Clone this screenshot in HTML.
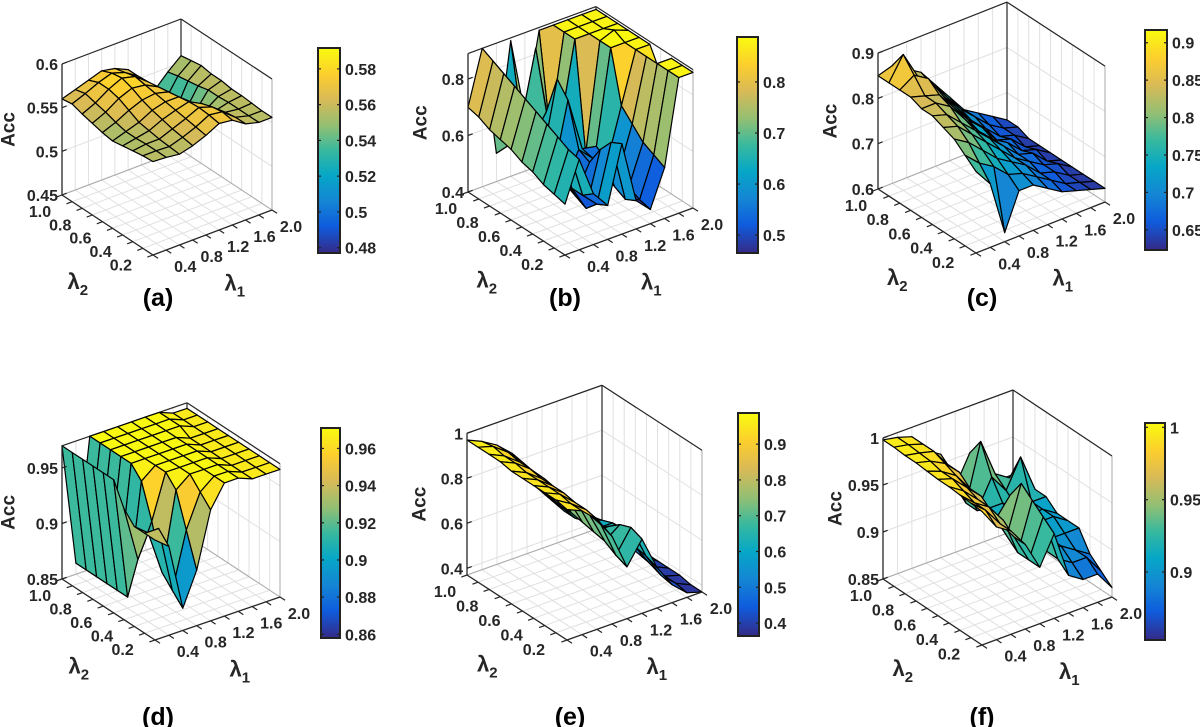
<!DOCTYPE html>
<html><head><meta charset="utf-8"><title>Acc surfaces</title>
<style>
html,body{margin:0;padding:0;background:#fff;}
svg{display:block;font-family:"Liberation Sans",Arial,sans-serif;font-weight:bold;}
</style></head>
<body>
<svg id="fig" width="1200" height="727" viewBox="0 0 1200 727" xmlns="http://www.w3.org/2000/svg">
<defs>
<linearGradient id="parula" x1="0" y1="1" x2="0" y2="0">
<stop offset="0" stop-color="#352a87"/><stop offset="0.13" stop-color="#0f5cdd"/><stop offset="0.25" stop-color="#1485d4"/><stop offset="0.38" stop-color="#06a7c6"/><stop offset="0.5" stop-color="#38b99e"/><stop offset="0.62" stop-color="#92bf73"/><stop offset="0.75" stop-color="#d9ba56"/><stop offset="0.87" stop-color="#fcce2e"/><stop offset="1" stop-color="#f9fb0e"/>
</linearGradient>
</defs>
</svg>
<script>
const lambda1 = [0.2,0.4,0.6,0.8,1.0,1.2,1.4,1.6,1.8,2.0];
const lambda2 = [1.0,0.9,0.8,0.7,0.6,0.5,0.4,0.3,0.2,0.1];
const lambda1Labels = [0.4,0.8,1.2,1.6,2.0];
const lambda2Labels = [1.0,0.8,0.6,0.4,0.2];

const accA = [
[.560,.565,.570,.575,.572,.565,.545,.530,.545,.558],
[.562,.568,.575,.580,.575,.565,.540,.525,.548,.560],
[.558,.565,.575,.582,.578,.566,.540,.520,.550,.562],
[.555,.562,.572,.578,.576,.568,.545,.528,.552,.560],
[.552,.558,.566,.572,.574,.570,.552,.535,.555,.560],
[.550,.555,.560,.568,.572,.572,.560,.545,.555,.558],
[.552,.555,.558,.565,.570,.574,.566,.552,.556,.558],
[.554,.556,.556,.562,.568,.575,.570,.558,.556,.557],
[.556,.556,.555,.560,.566,.574,.572,.560,.556,.556],
[.557,.556,.554,.558,.564,.572,.570,.560,.556,.556]];
const accB = [
[.70,.89,.50,.88,.60,.88,.88,.88,.88,.88],
[.69,.87,.55,.62,.86,.55,.88,.88,.88,.88],
[.67,.85,.60,.58,.66,.60,.88,.88,.88,.88],
[.66,.83,.55,.55,.80,.58,.50,.88,.90,.88],
[.65,.81,.52,.52,.75,.56,.55,.88,.88,.88],
[.63,.79,.56,.50,.60,.55,.52,.70,.88,.88],
[.62,.77,.58,.48,.58,.52,.50,.66,.88,.80],
[.60,.75,.55,.46,.65,.50,.48,.62,.88,.88],
[.59,.73,.55,.50,.70,.48,.46,.60,.88,.88],
[.58,.72,.58,.52,.72,.50,.45,.58,.88,.88]];
const accC = [
[.85,.86,.84,.82,.78,.74,.70,.68,.66,.64],
[.85,.90,.84,.81,.77,.73,.70,.67,.65,.64],
[.85,.87,.85,.80,.76,.72,.69,.66,.65,.63],
[.85,.84,.83,.79,.75,.72,.68,.67,.64,.63],
[.84,.84,.82,.78,.74,.71,.69,.66,.65,.63],
[.84,.83,.80,.77,.74,.71,.68,.67,.64,.63],
[.83,.82,.79,.76,.73,.70,.68,.66,.65,.63],
[.82,.80,.77,.74,.72,.70,.67,.66,.64,.63],
[.80,.77,.75,.72,.71,.69,.67,.65,.64,.63],
[.78,.74,.62,.70,.70,.68,.66,.65,.64,.63]];
const accD = [
[.97,.86,.97,.97,.97,.97,.97,.97,.965,.965],
[.97,.86,.97,.97,.97,.97,.97,.97,.965,.965],
[.97,.86,.97,.97,.97,.97,.97,.97,.965,.965],
[.97,.86,.97,.97,.97,.97,.97,.965,.965,.965],
[.97,.86,.97,.97,.97,.97,.97,.965,.965,.965],
[.97,.86,.96,.97,.97,.97,.97,.965,.965,.965],
[.95,.90,.93,.97,.97,.97,.97,.965,.965,.965],
[.94,.93,.89,.96,.97,.97,.97,.965,.965,.965],
[.94,.94,.88,.93,.96,.97,.97,.965,.965,.965],
[.94,.93,.87,.90,.95,.97,.97,.965,.965,.965]];
const accE = [
[.97,.94,.90,.84,.70,.62,.56,.50,.45,.40],
[.97,.95,.90,.83,.70,.61,.56,.50,.44,.40],
[.97,.94,.89,.82,.69,.60,.55,.51,.44,.39],
[.97,.94,.89,.82,.68,.60,.58,.52,.45,.39],
[.96,.93,.88,.81,.68,.62,.60,.55,.43,.38],
[.96,.93,.88,.80,.67,.62,.62,.56,.42,.38],
[.96,.93,.88,.80,.66,.66,.60,.52,.41,.38],
[.96,.93,.87,.79,.65,.70,.58,.48,.40,.38],
[.96,.92,.87,.78,.62,.72,.57,.46,.40,.37],
[.95,.92,.86,.76,.60,.70,.55,.45,.39,.37]];
const accF = [
[.998,.995,.99,.97,.96,.92,.95,.94,.91,.91],
[.998,.995,.99,.97,.95,.91,.97,.93,.92,.91],
[.997,.994,.99,.97,.95,.91,.94,.92,.95,.91],
[.997,.993,.985,.97,.94,.92,.92,.91,.91,.91],
[.996,.99,.98,.96,.94,.91,.91,.91,.91,.90],
[.995,.99,.975,.96,.93,.95,.92,.91,.91,.90],
[.995,.985,.97,.95,.92,.97,.91,.90,.90,.90],
[.994,.98,.97,.95,.91,.96,.90,.90,.89,.88],
[.993,.98,.96,.94,.91,.95,.90,.89,.89,.87],
[.992,.97,.96,.94,.91,.94,.89,.88,.88,.86]];

const zTicksA = [0.45,0.5,0.55,0.6], zLabelsA = ["0.45","0.5","0.55","0.6"];
const zTicksB = [0.4,0.6,0.8], zLabelsB = ["0.4","0.6","0.8"];
const zTicksC = [0.6,0.7,0.8,0.9], zLabelsC = ["0.6","0.7","0.8","0.9"];
const zTicksD = [0.85,0.9,0.95], zLabelsD = ["0.85","0.9","0.95"];
const zTicksE = [0.4,0.6,0.8,1.0], zLabelsE = ["0.4","0.6","0.8","1"];
const zTicksF = [0.85,0.9,0.95,1.0], zLabelsF = ["0.85","0.9","0.95","1"];

const cbTicksA = [0.48,0.5,0.52,0.54,0.56,0.58], cbLabelsA = ["0.48","0.5","0.52","0.54","0.56","0.58"];
const cbTicksB = [0.5,0.6,0.7,0.8], cbLabelsB = ["0.5","0.6","0.7","0.8"];
const cbTicksC = [0.65,0.7,0.75,0.8,0.85,0.9], cbLabelsC = ["0.65","0.7","0.75","0.8","0.85","0.9"];
const cbTicksD = [0.86,0.88,0.9,0.92,0.94,0.96], cbLabelsD = ["0.86","0.88","0.9","0.92","0.94","0.96"];
const cbTicksE = [0.4,0.5,0.6,0.7,0.8,0.9], cbLabelsE = ["0.4","0.5","0.6","0.7","0.8","0.9"];
const cbTicksF = [0.9,0.95,1.0], cbLabelsF = ["0.9","0.95","1"];

const panels = [
 {id:'a',data:accA,L:[62,195],F:[153,255],R:[272,210],zmin:.45,zmax:.6,ppu:131/0.15,zt:zTicksA,zl:zLabelsA,cb:[318,48,22,205],cmin:.477,cmax:.5917,cbt:cbTicksA,cbl:cbLabelsA,lx:158,ly:305,acc:-53},
 {id:'b',data:accB,L:[468,192],F:[565,255],R:[693,208],zmin:.4,zmax:.89,ppu:282.5,zt:zTicksB,zl:zLabelsB,cb:[737,37,21,216],cmin:.465,cmax:.888,cbt:cbTicksB,cbl:cbLabelsB,lx:565,ly:305,acc:-47},
 {id:'c',data:accC,L:[878,189],F:[976,253],R:[1105,202],zmin:.6,zmax:.9,ppu:453,zt:zTicksC,zl:zLabelsC,cb:[1145,30,22,220],cmin:.623,cmax:.917,cbt:cbTicksC,cbl:cbLabelsC,lx:982,ly:305,acc:-47},
 {id:'d',data:accD,L:[62,579],F:[155,640],R:[280,597],zmin:.85,zmax:.97,ppu:1110,zt:zTicksD,zl:zLabelsD,cb:[321,428,19,210],cmin:.858,cmax:.971,cbt:cbTicksD,cbl:cbLabelsD,lx:158,ly:724,acc:-53},
 {id:'e',data:accE,L:[467,575],F:[567,640],R:[702,592],zmin:.37,zmax:1.0,ppu:225,zt:zTicksE,zl:zLabelsE,cb:[738,413,21,223],cmin:.364,cmax:.987,cbt:cbTicksE,cbl:cbLabelsE,lx:570,ly:724,acc:-47},
 {id:'f',data:accF,L:[883,579],F:[982,645],R:[1112,597],zmin:.85,zmax:1.0,ppu:940,zt:zTicksF,zl:zLabelsF,cb:[1145,423,20,217],cmin:.853,cmax:1.003,cbt:cbTicksF,cbl:cbLabelsF,lx:982,ly:724,acc:-47}
];

const stops = [[0,[0x35,0x2a,0x87]],[0.13,[0x0f,0x5c,0xdd]],[0.25,[0x14,0x85,0xd4]],[0.38,[0x06,0xa7,0xc6]],[0.5,[0x38,0xb9,0x9e]],[0.62,[0x92,0xbf,0x73]],[0.75,[0xd9,0xba,0x56]],[0.87,[0xfc,0xce,0x2e]],[1,[0xf9,0xfb,0x0e]]];
function parula(t){
  t=Math.max(0,Math.min(1,t));
  for(let k=1;k<stops.length;k++){
    if(t<=stops[k][0]){
      const a=stops[k-1],b=stops[k];const f=(t-a[0])/(b[0]-a[0]);
      const c=a[1].map((v,i)=>Math.round(v+(b[1][i]-v)*f));
      return 'rgb('+c.join(',')+')';
    }
  }
  return 'rgb(249,251,14)';
}
const NS='http://www.w3.org/2000/svg';
const svg=document.getElementById('fig');
function add(parent,tag,attrs,name,txt){
  const el=document.createElementNS(NS,tag);
  for(const k in attrs) el.setAttribute(k,attrs[k]);
  
  
  if(txt!==undefined) el.textContent=txt;
  parent.appendChild(el);
  return el;
}
function line(g,a,b,stroke,w,name){
  return add(g,'line',{x1:a[0],y1:a[1],x2:b[0],y2:b[1],stroke:stroke,'stroke-width':w},name);
}

panels.forEach(p=>{
  const g=add(svg,'g',{},'panel-'+p.id);
  const uOf=l1=>(l1-0.2)/1.8, vOf=l2=>(1.0-l2)/0.9;
  const proj=(l1,l2,z)=>{
    const u=uOf(l1),v=vOf(l2);
    return [p.L[0]+v*(p.F[0]-p.L[0])+u*(p.R[0]-p.F[0]),
            p.L[1]+v*(p.F[1]-p.L[1])+u*(p.R[1]-p.F[1])-(z-p.zmin)*p.ppu];
  };
  const l1min=0.2,l1max=2.0,l2min=0.1,l2max=1.0;
  const grid=add(g,'g',{},'grid-lines-'+p.id);
  const gc='#e0e0e0';
  lambda1.forEach(a=>line(grid,proj(a,l2min,p.zmin),proj(a,l2max,p.zmin),gc,1,'floor-grid-line'));
  lambda2.forEach(b=>line(grid,proj(l1min,b,p.zmin),proj(l1max,b,p.zmin),gc,1,'floor-grid-line'));
  lambda1.forEach(a=>line(grid,proj(a,l2max,p.zmin),proj(a,l2max,p.zmax),gc,1,'wall-grid-line'));
  p.zt.forEach(z=>line(grid,proj(l1min,l2max,z),proj(l1max,l2max,z),gc,1,'wall-grid-line'));
  lambda2.forEach(b=>line(grid,proj(l1max,b,p.zmin),proj(l1max,b,p.zmax),gc,1,'wall-grid-line'));
  p.zt.forEach(z=>line(grid,proj(l1max,l2max,z),proj(l1max,l2min,z),gc,1,'wall-grid-line'));
  line(g,proj(l1min,l2max,p.zmin),proj(l1max,l2max,p.zmin),'#aaa',1,'floor-back-edge');
  line(g,proj(l1max,l2max,p.zmin),proj(l1max,l2min,p.zmin),'#aaa',1,'floor-back-edge');
  line(g,proj(l1max,l2min,p.zmin),proj(l1max,l2min,p.zmax),'#aaa',1,'box-right-edge');
  line(g,proj(l1max,l2max,p.zmin),proj(l1max,l2max,p.zmax),'#262626',1.2,'box-back-edge');
  line(g,proj(l1min,l2max,p.zmax),proj(l1max,l2max,p.zmax),'#262626',1.2,'box-top-edge');
  line(g,proj(l1max,l2max,p.zmax),proj(l1max,l2min,p.zmax),'#262626',1.2,'box-top-edge');

  const faces=[];
  for(let i=0;i<lambda1.length-1;i++){
    for(let j=0;j<lambda2.length-1;j++){
      const c=[[i,j],[i+1,j],[i+1,j+1],[i,j+1]];
      const pts=c.map(([a,b])=>proj(lambda1[a],lambda2[b],p.data[b][a]));
      const mean=c.reduce((s,[a,b])=>s+p.data[b][a],0)/4;
      const uc=uOf((lambda1[i]+lambda1[i+1])/2), vc=vOf((lambda2[j]+lambda2[j+1])/2);
      faces.push({pts,mean,depth:uc+(1-vc)});
    }
  }
  faces.sort((x,y)=>y.depth-x.depth);
  const sg=add(g,'g',{},'surface-'+p.id);
  faces.forEach(f=>{
    add(sg,'polygon',{points:f.pts.map(q=>q[0].toFixed(1)+','+q[1].toFixed(1)).join(' '),fill:parula((f.mean-p.cmin)/(p.cmax-p.cmin)),stroke:'#000','stroke-width':1.2,'stroke-linejoin':'round'},'surface-face');
  });

  const ax='#262626';
  line(g,proj(l1min,l2max,p.zmin),proj(l1min,l2max,p.zmax),ax,1.3,'z-axis-line');
  line(g,proj(l1min,l2max,p.zmin),proj(l1min,l2min,p.zmin),ax,1.3,'lambda2-axis-line');
  line(g,proj(l1min,l2min,p.zmin),proj(l1max,l2min,p.zmin),ax,1.3,'lambda1-axis-line');
  const dx=p.R[0]-p.F[0],dy=p.R[1]-p.F[1],dl=Math.hypot(dx,dy);
  const ex=p.F[0]-p.L[0],ey=p.F[1]-p.L[1],el=Math.hypot(ex,ey);
  lambda2.forEach(b=>{const q=proj(l1min,b,p.zmin);line(g,q,[q[0]-dx/dl*6,q[1]-dy/dl*6],ax,1.2,'lambda2-tick');});
  lambda1.forEach(a=>{const q=proj(a,l2min,p.zmin);line(g,q,[q[0]+ex/el*6,q[1]+ey/el*6],ax,1.2,'lambda1-tick');});
  p.zt.forEach((z,k)=>{
    const q=proj(l1min,l2max,z);
    line(g,q,[q[0]+dx/dl*5,q[1]+dy/dl*5],ax,1.2,'z-tick');
    add(g,'text',{x:q[0]-4,y:q[1]+6,'text-anchor':'end','font-size':16,fill:'#262626'},'z-tick-label',p.zl[k]);
  });
  lambda2Labels.forEach(b=>{
    const q=proj(l1min,b,p.zmin);
    add(g,'text',{x:q[0]-22,y:q[1]+22,'text-anchor':'middle','font-size':16,fill:'#262626'},'lambda2-tick-label',b.toFixed(1));
  });
  lambda1Labels.forEach(a=>{
    const q=proj(a,l2min,p.zmin);
    add(g,'text',{x:q[0]+19,y:q[1]+22,'text-anchor':'middle','font-size':16,fill:'#262626'},'lambda1-tick-label',a.toFixed(1));
  });
  const zc=(p.L[1]+proj(l1min,l2max,p.zmax)[1])/2;
  add(g,'text',{x:p.L[0]+p.acc,y:zc,'text-anchor':'middle','font-size':19,fill:'#262626',transform:'rotate(-90 '+(p.L[0]+p.acc)+' '+zc+')','dominant-baseline':'central'},'z-axis-title','Acc');
  const t2=add(g,'text',{x:(p.L[0]+p.F[0])/2-40,y:(p.L[1]+p.F[1])/2+64,'font-size':22,fill:'#262626'},'lambda2-axis-title');
  t2.appendChild(document.createTextNode('λ'));
  add(t2,'tspan',{'font-size':15,dy:6},'lambda2-subscript','2');
  const t1=add(g,'text',{x:(p.F[0]+p.R[0])/2+12,y:(p.F[1]+p.R[1])/2+58,'font-size':22,fill:'#262626'},'lambda1-axis-title');
  t1.appendChild(document.createTextNode('λ'));
  add(t1,'tspan',{'font-size':15,dy:6},'lambda1-subscript','1');
  add(g,'text',{x:p.lx,y:p.ly+1,'text-anchor':'middle','font-size':25,fill:'#000'},'panel-label-'+p.id,'('+p.id+')');
  const [cx,cy,cw,ch]=p.cb;
  const cg=add(g,'g',{},'colorbar-'+p.id);
  add(cg,'rect',{x:cx,y:cy,width:cw,height:ch,fill:'url(#parula)',stroke:'#222','stroke-width':2},'colorbar-gradient');
  p.cbt.forEach((t,k)=>{
    const y=cy+ch-(t-p.cmin)/(p.cmax-p.cmin)*ch;
    line(cg,[cx+cw-3,y],[cx+cw,y],'#222',1.2,'colorbar-tick');
    line(cg,[cx,y],[cx+3,y],'#222',1.2,'colorbar-tick');
    add(cg,'text',{x:cx+cw+5,y:y+6,'font-size':16,fill:'#262626'},'colorbar-tick-label',p.cbl[k]);
  });
});
</script>
</body></html>
